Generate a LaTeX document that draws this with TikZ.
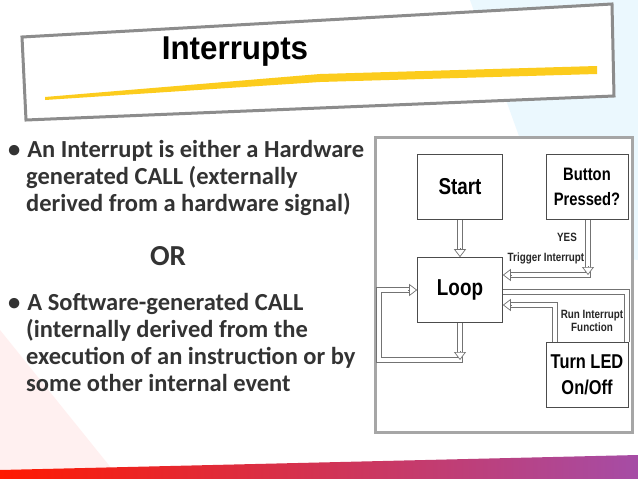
\documentclass[tikz,border=0pt]{standalone}
\usepackage{fontspec}
\usepackage{graphicx}
\setmainfont{Carlito}
\newfontfamily\arialf{Liberation Sans}
\newcommand{\nw}[1]{\scalebox{0.82}[1]{#1}}
\usetikzlibrary{arrows.meta,calc}
\begin{document}
\begin{tikzpicture}[x=1pt,y=-1pt,
  bx/.style={draw=black!70,line width=0.6pt,fill=white,minimum width=85pt,minimum height=65pt,font=\arialf\bfseries,align=center,inner sep=0pt},
  holo/.style={draw=black!55,line width=5.4pt},
  holi/.style={draw=white,line width=3.8pt},
  tipa/.style={draw=black!55,line width=0.7pt,-{Triangle[length=8pt,width=12pt,fill=white]}},
  lab/.style={font=\arialf\bfseries\fontsize{12}{13}\selectfont,text=black!85,align=center,inner sep=1pt},
  bul/.style={anchor=west,font=\bfseries\fontsize{24.5}{27}\selectfont,text=black!80,align=left,inner sep=0pt}]
\useasboundingbox (0,0) rectangle (638,479);
\fill[white] (0,0) rectangle (638,479);
\fill[cyan!8] (470,0) -- (638,0) -- (638,260) -- (560,250) -- cycle;
\fill[red!6] (0,330) -- (120,479) -- (0,479) -- cycle;
\shade[left color=red!80!orange,right color=violet!70] (0,470) -- (638,455) -- (638,479) -- (0,479) -- cycle;
% title
\draw[black!45,line width=3pt,fill=white] (22,37) -- (612,4) -- (614,96) -- (26,120) -- cycle;
\fill[yellow!60!orange!90] (45,97) -- (320,74) -- (597,66) -- (597,74) -- (320,82) -- (45,100) -- cycle;
\node[font=\arialf\bfseries\fontsize{33}{35}\selectfont] (title) at (235,52) {\scalebox{0.95}[1]{Interrupts}};
% bullets
\node[bul] (b1) at (8,178) {•\hspace{7pt}An Interrupt is either a Hardware\\\hspace{18pt}generated CALL (externally\\\hspace{18pt}derived from a hardware signal)};
\node[font=\bfseries\fontsize{29}{30}\selectfont,text=black!80] (or) at (168,256) {OR};
\node[bul] (b2) at (8,342) {•\hspace{7pt}A Software-generated CALL\\\hspace{18pt}(internally derived from the\\\hspace{18pt}execution of an instruction or by\\\hspace{18pt}some other internal event};
% panel
\draw[black!35,line width=3pt,fill=white] (375,137) rectangle (632,432);
\node[bx,font=\arialf\bfseries\fontsize{23}{24}\selectfont] (start) at (460,187) {\nw{Start}};
\node[bx,minimum width=82pt,font=\arialf\bfseries\fontsize{18}{25}\selectfont] (btn) at (587,187) {\nw{Button}\\\nw{Pressed?}};
\node[bx,font=\arialf\bfseries\fontsize{23}{24}\selectfont] (loop) at (460,290) {\nw{Loop}};
\node[bx,minimum width=82pt,font=\arialf\bfseries\fontsize{20}{26}\selectfont] (led) at (587,375) {\nw{Turn LED}\\\nw{On/Off}};
\coordinate (c1) at (588,275);
\coordinate (c2) at (627,292);
\coordinate (c3) at (555,305);
\coordinate (c4) at (460,360);
\coordinate (c5) at (379,360);
\coordinate (c6) at (379,290);
% hollow shafts
\foreach \s in {holo,holi}{
 \draw[\s] (start.south) -- ($(loop.north)+(0,-6)$);
 \draw[\s] (btn.south -| c1) -- (c1) -- ($(loop.east |- c1)+(6,0)$);
 \draw[\s] (loop.east |- c2) -- (c2) -- (c2 |- led.north);
 \draw[\s] (led.north -| c3) -- (c3) -- ($(loop.east |- c3)+(6,0)$);
 \draw[\s] (loop.south) -- (c4) -- (c5) -- (c6) -- ($(loop.west)+(-6,0)$);
}
\draw[tipa] ($(loop.north)+(0,-9)$) -- (loop.north);
\draw[tipa] ($(loop.east |- c1)+(9,0)$) -- (loop.east |- c1);
\draw[tipa] ($(loop.east |- c3)+(9,0)$) -- (loop.east |- c3);
\draw[tipa] ($(loop.west)+(-9,0)$) -- (loop.west);
\draw[tipa] ($(c1)+(0,-9)$) -- (c1);
\draw[tipa] ($(c4)+(0,-9)$) -- (c4);
\node[lab] (yes) at (567,237) {\nw{YES}};
\node[lab] (trig) at (546,258) {\nw{Trigger Interrupt}};
\node[lab] (run) at (592,321) {\nw{Run Interrupt}\\\nw{Function}};
\end{tikzpicture}
\end{document}
